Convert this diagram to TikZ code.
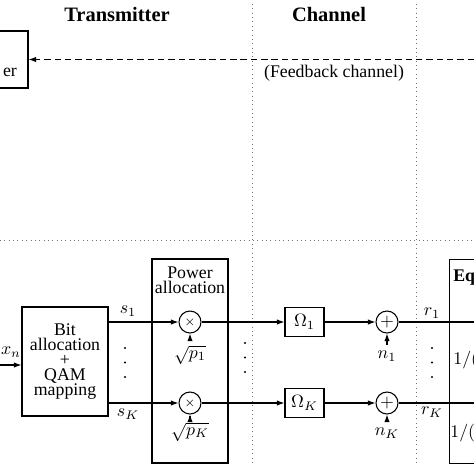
\documentclass[tikz,border=0pt]{standalone}
\usepackage{fontspec}
\setmainfont{Liberation Serif}
\usetikzlibrary{arrows.meta}
\def\px{0.5618pt}
\def\chdots(#1,#2){\fill (#1,#2) circle (0.65pt) (#1,#2+14.5) circle (0.65pt) (#1,#2+29) circle (0.65pt);}

\begin{document}
\begin{tikzpicture}[x=\px, y=-\px, font=\fontsize{10}{8.4}\selectfont,
		blk/.style={draw, line width=0.6pt, inner sep=0pt, align=center},
		op/.style={draw, circle, line width=0.6pt, minimum size=22*\px, inner sep=0pt},
		wire/.style={line width=0.6pt},
		sig/.style={line width=0.6pt, -{Latex[length=4.2pt,width=3pt]}},
		sep/.style={line width=0.45pt, dotted, black!55},
		head/.style={font=\fontsize{11.5}{13}\selectfont\bfseries}]
			%%%%% START %%%%%
			
			\useasboundingbox (0,0) rectangle (474,474);
			\clip (0,0) rectangle (474,474);
			
			\draw[sep] (0,240) -- (474,240);
			\draw[sep] (252,4) -- (252,466);
			\draw[sep] (416,4) -- (416,466);
			
			\node[head] (tx) at (117,14) {Transmitter};
			\node[head] (ch) at (329,14) {Channel};
			
			% feedback path
			\node[blk, minimum width=68*\px, minimum height=57*\px] (fb) at (-6,59.5) {};
			\node (fbtxt) at (10,72) {er};
			\coordinate (fbend) at (474,59.5);
			\draw[sig, dash pattern=on 3.6pt off 2.2pt] (fbend) -- (fb);
			\node (fblabel) at (334,73) {(Feedback channel)};
			
			% bit allocation
			\node[blk, minimum width=86*\px, minimum height=109*\px] (bit) at (65,361.5) {Bit\\allocation\\+\\QAM\\mapping};
			\coordinate (xin) at (0,365);
			\draw[sig] (xin) -- (bit.west |- xin);
			\node (xn) at (11,352) {$x_n$};
			
			% power allocation
			\node[blk, minimum width=76*\px, minimum height=204*\px] (pwr) at (190,361) {};
			\node[align=center] (pwrtxt) at (190,280) {Power\\allocation};
			
			\node[op, font=\scriptsize] (m1) at (190,322) {$\times$};
			\node[op, font=\scriptsize] (mK) at (190,403) {$\times$};
			\draw[sig] (bit.east |- m1) -- (m1);
			\draw[sig] (bit.east |- mK) -- (mK);
			\node (s1) at (128,311) {$s_1$};
			\node (sK) at (128,414) {$s_K$};
			\chdots(125,348)
			
			\node (p1) at (190,355) {$\sqrt{p_1}$};
			\node (pK) at (190,432) {$\sqrt{p_K}$};
			\draw[sig] (p1) -- (m1);
			\draw[sig] (pK) -- (mK);
			
			% channel
			\node[blk, minimum width=39*\px, minimum height=29*\px] (om1) at (304.5,322) {$\Omega_1$};
			\node[blk, minimum width=39*\px, minimum height=29*\px] (omK) at (304.5,403) {$\Omega_K$};
			\draw[sig] (m1) -- (om1);
			\draw[sig] (mK) -- (omK);
			\chdots(245,343)
			
			\node[op] (a1) at (387,322) {$+$};
			\node[op] (aK) at (387,403) {$+$};
			\draw[sig] (om1) -- (a1);
			\draw[sig] (omK) -- (aK);
			\node (n1) at (387,356) {$n_1$};
			\node (nK) at (387,433) {$n_K$};
			\draw[sig] (n1) -- (a1);
			\draw[sig] (nK) -- (aK);
			
			% receiver side
			\node[blk, minimum width=60*\px, minimum height=204*\px, anchor=north west] (eq) at (449,259) {};
			\node[anchor=west, inner sep=0pt, font=\fontsize{10}{8.4}\selectfont\bfseries] (eqtxt) at (453,278) {Eq};
			\node[anchor=west, inner sep=0pt] (eq1) at (453,360) {$1/($};
			\node[anchor=west, inner sep=0pt] (eqK) at (450,433) {$1/($};
			\coordinate (r1end) at (474,322);
			\coordinate (rKend) at (474,403);
			\draw[wire] (a1) -- (r1end);
			\draw[wire] (aK) -- (rKend);
			\node (r1) at (432,313) {$r_1$};
			\node (rK) at (432,412) {$r_K$};
			\chdots(432,348)
			
			%%%%% END %%%%%
\end{tikzpicture}
\end{document}
